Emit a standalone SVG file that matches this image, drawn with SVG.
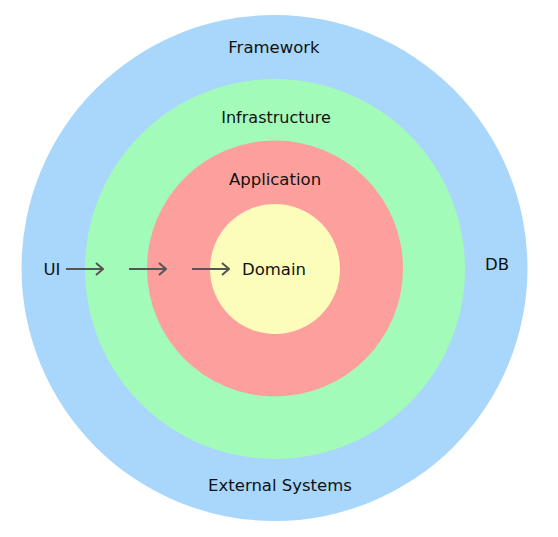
<svg xmlns="http://www.w3.org/2000/svg" width="558" height="537" viewBox="0 0 558 537">
<style>
text{font-family:"DejaVu Sans","Liberation Sans",sans-serif;font-size:16.5px;fill:#111;text-anchor:middle}
.arr{stroke:#555;stroke-width:2;fill:none;marker-end:url(#ah)}
</style>
<defs>
<marker id="ah" viewBox="0 0 10 14" refX="9" refY="7" markerWidth="10" markerHeight="14" markerUnits="userSpaceOnUse" orient="auto">
<path d="M2,1 L9,7 L2,13" fill="none" stroke="#555" stroke-width="2"/>
</marker>
</defs>
<rect width="558" height="537" fill="#fff"/>
<g id="framework">
<circle cx="274.5" cy="268" r="253" fill="#a8d7fb"/>
<text x="274" y="53">Framework</text>
<text x="497" y="270">DB</text>
<text x="280" y="491">External Systems</text>
<text x="52" y="275">UI</text>
</g>
<g id="infrastructure">
<circle cx="275" cy="269" r="190" fill="#a3fbba"/>
<text x="276" y="123" style="font-size:16px">Infrastructure</text>
</g>
<g id="application">
<circle cx="275" cy="268.5" r="128" fill="#fda09d"/>
<text x="275" y="185">Application</text>
</g>
<g id="domain">
<circle cx="275" cy="269" r="65" fill="#fcfcbb"/>
<text x="274" y="275">Domain</text>
</g>
<g id="connectors">
<line class="arr" x1="66" y1="269" x2="103" y2="269"/>
<line class="arr" x1="129" y1="269" x2="166" y2="269"/>
<line class="arr" x1="192" y1="269" x2="229" y2="269"/>
</g>
</svg>
